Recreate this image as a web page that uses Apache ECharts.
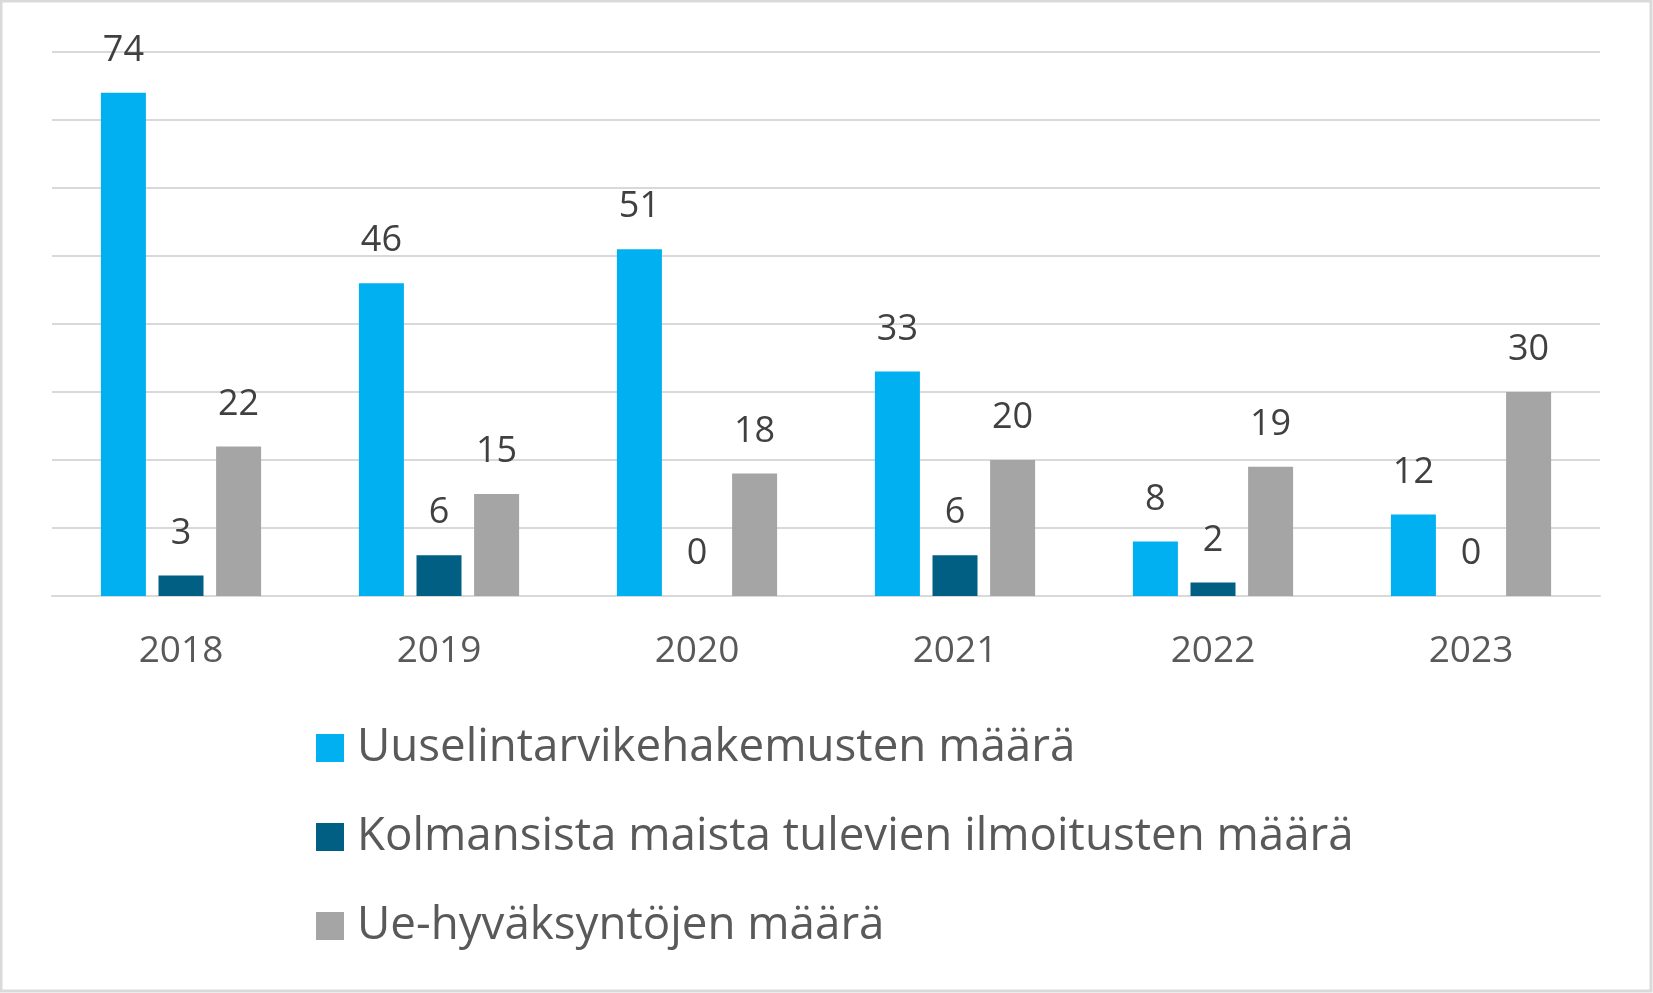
<!DOCTYPE html>
<html><head><meta charset="utf-8">
<script src="https://cdn.jsdelivr.net/npm/echarts@6/dist/echarts.min.js"></script>
<style>html,body{margin:0;padding:0;background:#fff}#c{width:1653px;height:993px}</style>
</head><body><div id="c"></div>
<script>
const categories = ['2018','2019','2020','2021','2022','2023'];
const seriesNames = ['Uuselintarvikehakemusten määrä','Kolmansista maista tulevien ilmoitusten määrä','Ue-hyväksyntöjen määrä'];
const uusi = [74, 46, 51, 33, 8, 12];
const kolmannet = [3, 6, 0, 6, 2, 0];
const ue = [22, 15, 18, 20, 19, 30];
const colors = ['#00B0F0', '#005F83', '#A5A5A5'];

const chart = echarts.init(document.getElementById('c'), null, {renderer:'canvas'});
const font = "'Open Sans', sans-serif";
function mk(name, data, color){
  return {
    name, type:'bar', data, barWidth:45, barGap:'28%',
    itemStyle:{color},
    label:{show:true, position:'top', distance:24, color:'#404040', fontSize:36, fontFamily:font},
    animation:false
  };
}
chart.setOption({
  animation:false,
  graphic:[{type:'rect', shape:{x:1, y:1, width:1650, height:990}, style:{fill:'none', stroke:'#D9D9D9', lineWidth:3}, silent:true}],
  grid:{left:52, right:53, top:52, bottom:397},
  xAxis:{type:'category', data:categories,
    axisLine:{lineStyle:{color:'#D9D9D9', width:2}}, axisTick:{show:false},
    axisLabel:{color:'#595959', fontSize:37, fontFamily:font, margin:37}},
  yAxis:{type:'value', min:0, max:80, interval:10,
    axisLabel:{show:false}, axisLine:{show:false}, axisTick:{show:false},
    splitLine:{lineStyle:{color:'#D9D9D9', width:2}}},
  legend:{orient:'vertical', left:311, top:718, itemWidth:28, itemHeight:28, itemGap:39,
    icon:'rect', data:seriesNames,
    textStyle:{color:'#595959', fontSize:45.7, fontFamily:font, lineHeight:50, padding:[0,0,0,8]}},
  series:[mk(seriesNames[0], uusi, colors[0]), mk(seriesNames[1], kolmannet, colors[1]), mk(seriesNames[2], ue, colors[2])]
});
</script></body></html>
